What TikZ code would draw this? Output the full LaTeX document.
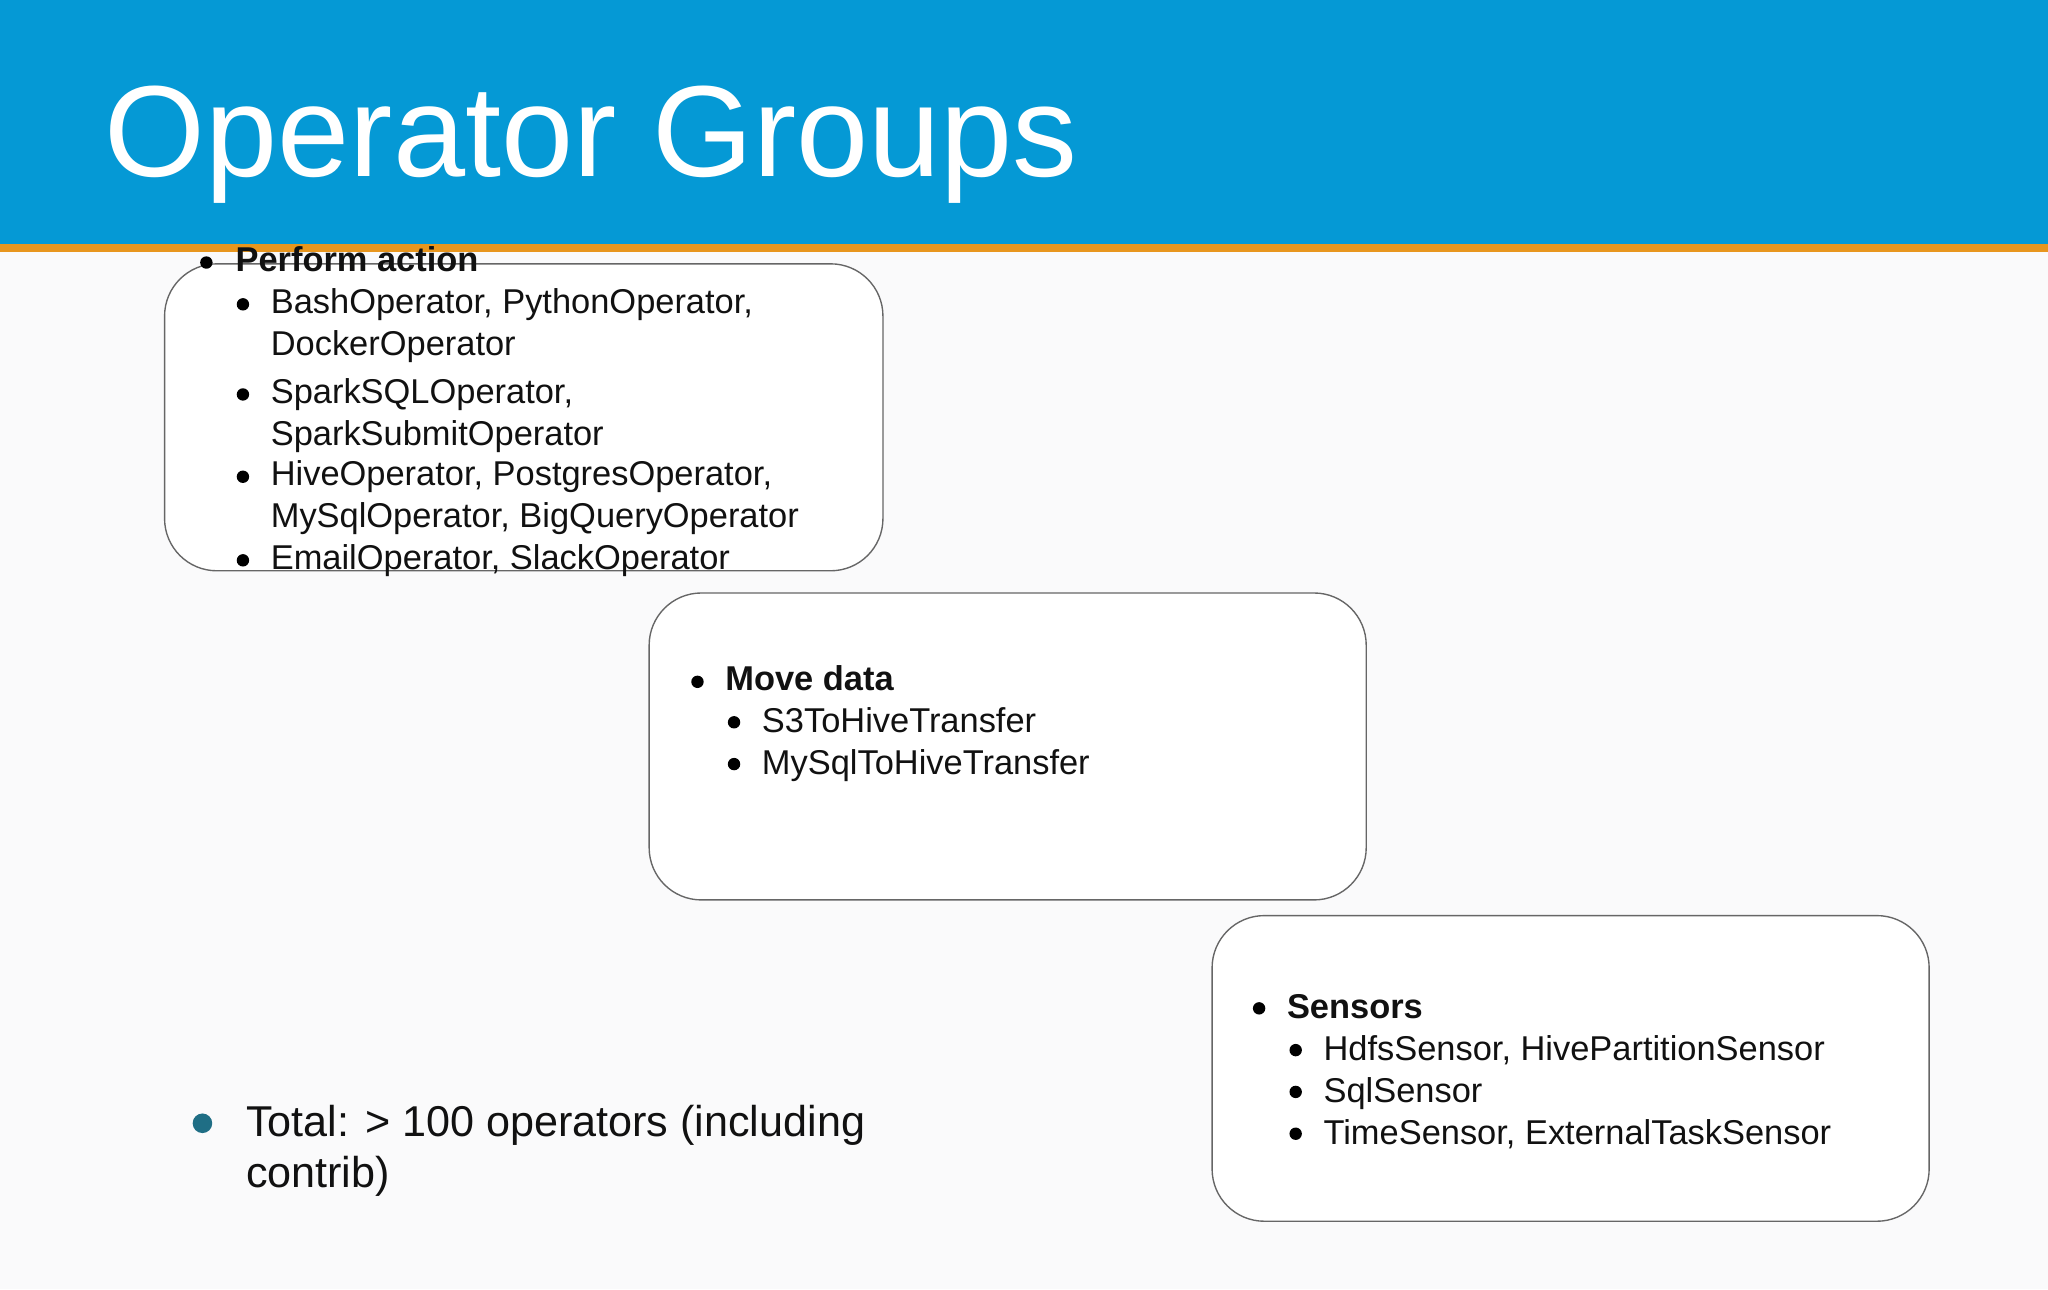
\documentclass[tikz,border=0pt]{standalone}
\usepackage{fontspec}
\setmainfont{Liberation Sans}
\definecolor{hdr}{HTML}{0599D5}
\definecolor{org}{HTML}{E8961E}
\definecolor{bg}{HTML}{FAFAFB}
\definecolor{teal}{HTML}{1F6E85}
\definecolor{txt}{HTML}{111111}
\begin{document}
\begin{tikzpicture}[x=0.02cm,y=-0.02cm,
  box/.style={draw=gray!80!black,line width=0.6pt,rounded corners=0.8cm,fill=white},
  t/.style={anchor=base west,inner sep=0pt,font=\fontsize{15}{17}\selectfont,text=txt},
  tb/.style={t,font=\fontsize{15}{17}\selectfont\bfseries},
  dot/.style={circle,fill=black,inner sep=0pt,minimum size=0.19cm}]
\useasboundingbox (0,0) rectangle (1568,987);
\fill[bg] (0,0) rectangle (1568,987);
\fill[hdr] (0,0) rectangle (1568,187);
\fill[org] (0,187) rectangle (1568,193);
\node[anchor=base west,inner sep=0pt,text=white,font=\fontsize{56.5}{64}\selectfont] (title) at (80,135) {Operator Groups};
% box 1
\draw[box] (126,202) rectangle (676,437);
\node[dot] (d0) at (158,201) {};
\node[tb] (l0) at (180,208) {Perform action};
\foreach \y/\s/\n in {240/{BashOperator, PythonOperator,}/a,272/{DockerOperator}/b,309/{SparkSQLOperator,}/c,341/{SparkSubmitOperator}/d,372/{HiveOperator, PostgresOperator,}/e,404/{MySqlOperator, BigQueryOperator}/f,436/{EmailOperator, SlackOperator}/g}
  \node[t] (p\n) at (207,\y) {\s};
\foreach \y/\n in {233/a,302/c,365/e,429/g} \node[dot] (pd\n) at (186,\y) {};
% box 2
\draw[box] (497,454) rectangle (1046,689);
\node[dot] (m0) at (534,522) {};
\node[tb] (ml0) at (555,529) {Move data};
\node[dot] (m1) at (562,553) {};
\node[t] (ml1) at (583,561) {S3ToHiveTransfer};
\node[dot] (m2) at (562,585) {};
\node[t] (ml2) at (583,593) {MySqlToHiveTransfer};
% box 3
\draw[box] (928,701) rectangle (1477,935);
\node[dot] (s0) at (964,772) {};
\node[tb] (sl0) at (985,780) {Sensors};
\node[dot] (s1) at (992,804) {};
\node[t] (sl1) at (1013,812) {HdfsSensor, HivePartitionSensor};
\node[dot] (s2) at (992,836) {};
\node[t] (sl2) at (1013,844) {SqlSensor};
\node[dot] (s3) at (992,868) {};
\node[t] (sl3) at (1013,876) {TimeSensor, ExternalTaskSensor};
% total
\node[circle,fill=teal,inner sep=0pt,minimum size=0.3cm] (td) at (155,860) {};
\node[anchor=base west,inner sep=0pt,text=txt,font=\fontsize{18.8}{22}\selectfont] (tot1) at (188,870) {Total: > 100 operators (including};
\node[anchor=base west,inner sep=0pt,text=txt,font=\fontsize{18.8}{22}\selectfont] (tot2) at (188,909) {contrib)};
\end{tikzpicture}
\end{document}
